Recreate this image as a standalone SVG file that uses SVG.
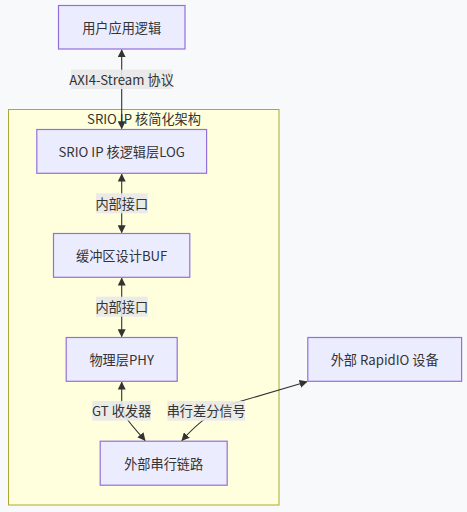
<svg xmlns="http://www.w3.org/2000/svg" width="467" height="512" viewBox="0 0 467 512">
<defs>
<marker id="arrEnd" viewBox="0 0 10 10" refX="9" refY="5" markerWidth="8" markerHeight="8" markerUnits="userSpaceOnUse" orient="auto">
<path d="M0,0 L10,5 L0,10 z" fill="#333"/>
</marker>
<marker id="arrStart" viewBox="0 0 10 10" refX="1" refY="5" markerWidth="8" markerHeight="8" markerUnits="userSpaceOnUse" orient="auto">
<path d="M10,0 L0,5 L10,10 z" fill="#333"/>
</marker>
</defs>
<style>
text{font-family:"Noto Sans CJK SC","Noto Sans",sans-serif;font-size:13.2px;fill:#333;text-anchor:middle;dominant-baseline:central}
.node rect{fill:#ECECFF;stroke:#9370DB;stroke-width:1.2}
.edge{fill:none;stroke:#333;stroke-width:1.1;marker-start:url(#arrStart);marker-end:url(#arrEnd)}
.lbl{fill:#e8e8e8;opacity:0.9}
</style>
<rect x="0" y="0" width="467" height="512" fill="#f8f9fb"/>
<g id="cluster">
<rect x="8.5" y="109.5" width="270.5" height="395.5" fill="#ffffde" stroke="#aaaa33" stroke-width="1"/>
<text x="144" y="118.5">SRIO IP 核简化架构</text>
</g>
<g id="n_user" class="node">
<rect x="58.5" y="5.5" width="126.5" height="43.5"/>
<text x="121.7" y="27.3">用户应用逻辑</text>
</g>
<g id="n_log" class="node">
<rect x="36.8" y="129.5" width="169.8" height="43.8"/>
<text x="121.7" y="151.4">SRIO IP 核逻辑层LOG</text>
</g>
<g id="n_buf" class="node">
<rect x="53.5" y="233.5" width="136.3" height="43.8"/>
<text x="121.7" y="255.4">缓冲区设计BUF</text>
</g>
<g id="n_phy" class="node">
<rect x="66.2" y="337.5" width="111" height="43.8"/>
<text x="121.7" y="359.4">物理层PHY</text>
</g>
<g id="n_link" class="node">
<rect x="100.2" y="441.2" width="127" height="44"/>
<text x="163.7" y="463.2">外部串行链路</text>
</g>
<g id="n_rapidio" class="node">
<rect x="307.8" y="337.5" width="153.8" height="43.8"/>
<text x="384.7" y="359.4">外部 RapidIO 设备</text>
</g>
<g id="connectors">
<path class="edge" d="M121.7,50 L121.7,128.5"/>
<path class="edge" d="M121.7,174.3 L121.7,232.5"/>
<path class="edge" d="M121.7,278.3 L121.7,336.5"/>
<path class="edge" d="M121.7,382.3 L121.7,402 C122,418 134,427 145,440.3"/>
<path class="edge" d="M182,440.3 C196,425 212,410 238,402 L306.8,381.8"/>
<rect class="lbl" x="71" y="69.7" width="101" height="19.3"/>
<text x="121.5" y="79.3">AXI4-Stream 协议</text>
<rect class="lbl" x="96" y="193.3" width="51.7" height="20"/>
<text x="121.8" y="203.3">内部接口</text>
<rect class="lbl" x="96" y="296.7" width="51.7" height="20"/>
<text x="121.8" y="306.7">内部接口</text>
<rect class="lbl" x="92.3" y="401" width="58.7" height="19.7"/>
<text x="121.7" y="410.8">GT 收发器</text>
<rect class="lbl" x="167.3" y="401" width="77.7" height="19.7"/>
<text x="206.2" y="410.8">串行差分信号</text>
</g>
</svg>
